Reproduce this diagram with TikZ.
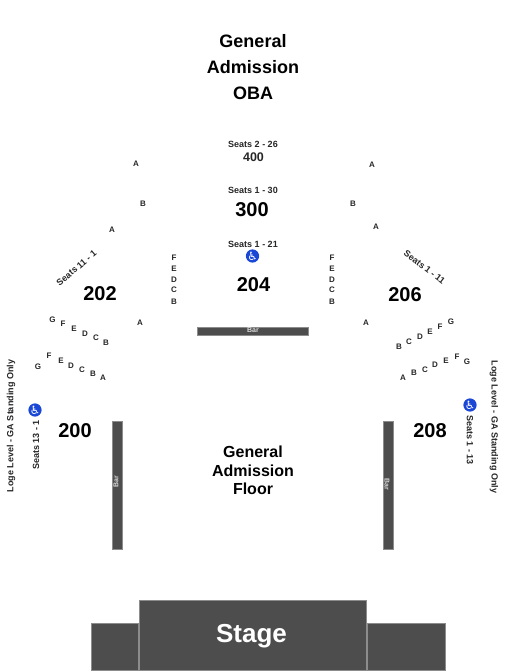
\documentclass[tikz,border=0pt]{standalone}
\usepackage{fontspec}
\setmainfont{Liberation Sans}
\newfontfamily\iconfont{DejaVu Sans}
\usetikzlibrary{positioning}
\definecolor{bardark}{HTML}{4D4D4D}
\definecolor{accessblue}{HTML}{1A47D6}
\begin{document}
\begin{tikzpicture}[x=1pt, y=-1pt, font=\bfseries,
    blocktitle/.style={align=center, font=\bfseries\fontsize{18}{26}\selectfont},
    floortitle/.style={align=center, font=\bfseries\fontsize{16}{18.5}\selectfont},
    sectionnum/.style={font=\bfseries\fontsize{20}{20}\selectfont},
    seatrange/.style={font=\bfseries\fontsize{9}{9}\selectfont, text=black!85},
    rowletter/.style={font=\bfseries\fontsize{8}{8}\selectfont, text=black!85, inner sep=0pt},
    logetext/.style={font=\bfseries\fontsize{9}{9}\selectfont, text=black!85},
    darkblock/.style={fill=bardark, draw=black!45, line width=0.4pt},
    barlabel/.style={font=\bfseries\fontsize{7}{7}\selectfont, text=white!85!black, inner sep=0pt},
    access/.style={circle, fill=accessblue, minimum size=12.5pt, inner sep=0pt, text=white,
        font=\iconfont\fontsize{11.5}{11.5}\selectfont}]

    \useasboundingbox (0,0) rectangle (511,671);

    % 1. Upper Titles
    \node[blocktitle] (oba) at (253,67.5) {General\\Admission\\OBA};
    \node[seatrange] (seats400) at (253,144) {Seats 2 - 26};
    \node[font=\bfseries\fontsize{12.5}{12.5}\selectfont, text=black!85] (sec400) at (253.5,157) {400};
    \node[seatrange] (seats300) at (253,190) {Seats 1 - 30};
    \node[sectionnum] (sec300) at (252,210) {300};
    \node[seatrange] (seats204) at (253,244) {Seats 1 - 21};
    \node[access] (chair204) at (252.5,256) {♿};
    \node[sectionnum] (sec204) at (253.5,285) {204};

    % 2. Side Sections
    \node[sectionnum] (sec202) at (100,294) {202};
    \node[sectionnum] (sec206) at (405,295) {206};
    \node[sectionnum] (sec200) at (75,431) {200};
    \node[sectionnum] (sec208) at (430,431) {208};
    \node[seatrange, rotate=40, inner sep=0pt] (seats202) at (76.5,268) {Seats 11 - 1};
    \node[seatrange, rotate=-37.5, inner sep=0pt] (seats206) at (424.5,267) {Seats 1 - 11};
    \node[seatrange, rotate=90] (seats200) at (36,445) {Seats 13 - 1};
    \node[seatrange, rotate=-90] (seats208) at (470,440) {Seats 1 - 13};
    \node[logetext, rotate=90] (logeleft) at (11,426) {Loge Level - GA Standing Only};
    \node[logetext, rotate=-90] (logeright) at (494,427) {Loge Level - GA Standing Only};
    \node[access] (chairleft) at (35,410) {♿};
    \node[access] (chairright) at (470,405) {♿};

    % 3. Row Letters
    \foreach \l/\x/\y [count=\i] in {A/136/164, A/372/165, B/143/204, B/353/204, A/112/230, A/376/227,
        A/140/323, A/366/323} {
        \node[rowletter] (solo\i) at (\x,\y) {\l};
    }
    \foreach \l/\y in {F/258, E/269, D/280, C/290, B/302} {
        \node[rowletter] (midl\l) at (174,\y) {\l};
        \node[rowletter] (midr\l) at (332,\y) {\l};
    }
    \foreach \l/\x/\y in {G/52.5/320, F/63/324, E/74/329, D/85/334, C/96/338, B/106/343} {
        \node[rowletter] (upl\l) at (\x,\y) {\l};
    }
    \foreach \l/\x/\y in {G/38/367, F/49/356, E/61/361, D/71/366, C/82/370, B/93/374, A/103/378} {
        \node[rowletter] (lowl\l) at (\x,\y) {\l};
    }
    \foreach \l/\x/\y in {B/399/347, C/409/342, D/420/337, E/430/332, F/440/327, G/451/322} {
        \node[rowletter] (upr\l) at (\x,\y) {\l};
    }
    \foreach \l/\x/\y in {A/403/378, B/414/373, C/425/370, D/435/365, E/446/361, F/457/357, G/467/362} {
        \node[rowletter] (lowr\l) at (\x,\y) {\l};
    }

    % 4. Bars
    \draw[darkblock] (197,327) rectangle (308,335);
    \node[barlabel] (barmid) at (253,330.5) {Bar};
    \draw[darkblock] (112,421) rectangle (122,549);
    \node[barlabel, rotate=90] (barleft) at (116,482) {Bar};
    \draw[darkblock] (383,421) rectangle (393,549);
    \node[barlabel, rotate=-90] (barright) at (387,484) {Bar};

    % 5. Floor and Stage
    \node[floortitle] (floor) at (253,470.5) {General\\Admission\\Floor};
    \draw[darkblock] (91,623) rectangle (138,670);
    \draw[darkblock] (367,623) rectangle (445,670);
    \draw[darkblock] (139,600) rectangle (366,670);
    \node[font=\bfseries\fontsize{26}{26}\selectfont, text=white] (stage) at (251.5,636.5) {Stage};

\end{tikzpicture}
\end{document}
